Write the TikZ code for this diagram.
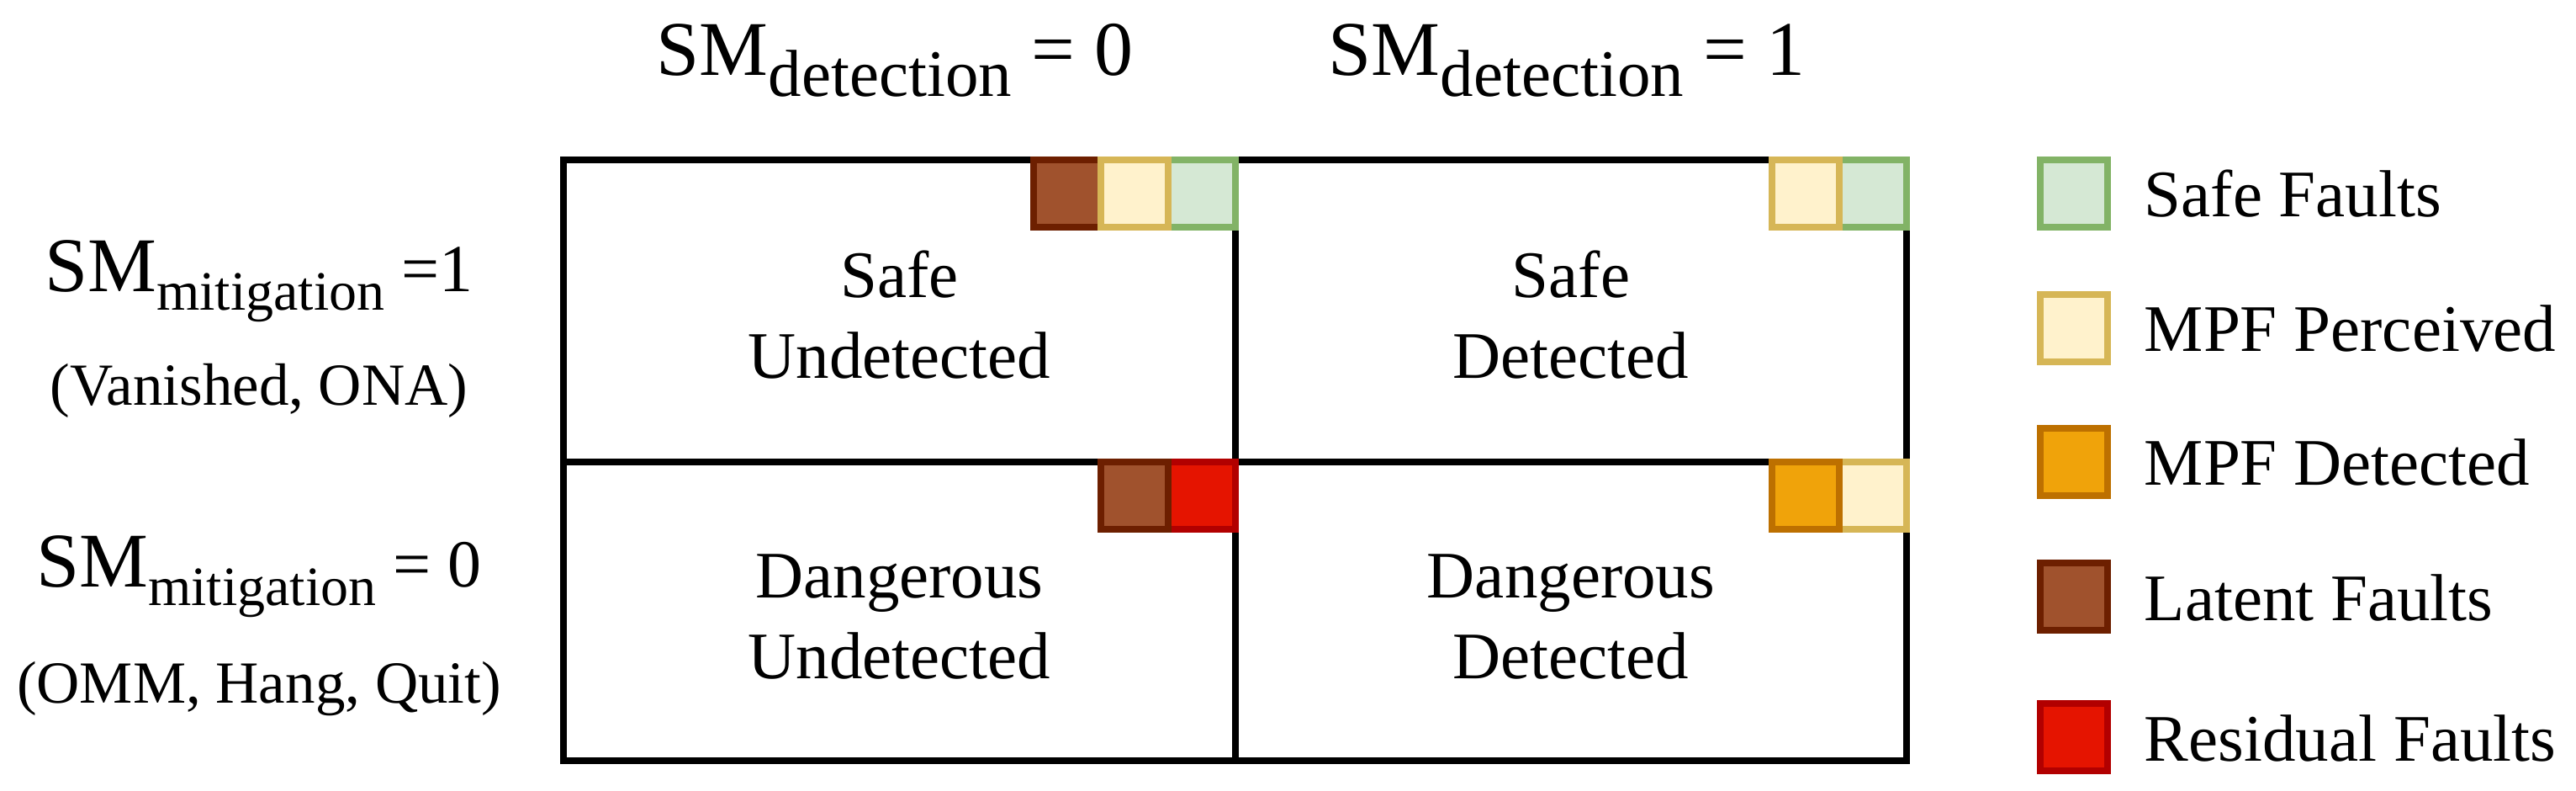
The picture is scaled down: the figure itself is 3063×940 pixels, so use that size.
\documentclass[tikz,border=0pt]{standalone}
\usepackage{fontspec}
\setmainfont{Liberation Serif}
\definecolor{safeF}{HTML}{D5E8D4}\definecolor{safeD}{HTML}{82B366}
\definecolor{percF}{HTML}{FFF2CC}\definecolor{percD}{HTML}{D6B656}
\definecolor{detF}{HTML}{F0A30A}\definecolor{detD}{HTML}{BD7000}
\definecolor{latF}{HTML}{A0522D}\definecolor{latD}{HTML}{6D1F00}
\definecolor{resF}{HTML}{E51400}\definecolor{resD}{HTML}{B20000}
\newcommand{\lowsub}[3]{\raisebox{-#2}{\fontsize{#1}{#1}\selectfont #3}}
\newcommand{\eqpart}[1]{{\fontsize{20}{24}\selectfont #1}}
\tikzset{
  cellbox/.style={draw=black, line width=2pt, inner sep=0pt, outer sep=0pt},
  celltext/.style={font=\fontsize{19.75}{24}\selectfont, align=center, inner sep=0pt},
  fsq/.style={minimum size=20pt, inner sep=0pt, outer sep=0pt, line width=2pt},
  safesq/.style={fsq, draw=safeD, fill=safeF},
  percsq/.style={fsq, draw=percD, fill=percF},
  detsq/.style={fsq, draw=detD, fill=detF},
  latsq/.style={fsq, draw=latD, fill=latF},
  ressq/.style={fsq, draw=resD, fill=resF},
  legtext/.style={font=\fontsize{19.75}{24}\selectfont, anchor=base west, inner sep=0pt},
  toplab/.style={font=\fontsize{23}{27}\selectfont, anchor=base, inner sep=0pt},
  sidelab/.style={font=\fontsize{23}{27}\selectfont, anchor=base, inner sep=0pt},
  parlab/.style={font=\fontsize{17.75}{21}\selectfont, anchor=base, inner sep=0pt},
}
\begin{document}
\begin{tikzpicture}[x=0.25pt, y=-0.25pt]
\useasboundingbox (0,0) rectangle (3063,940);
% grid cells
\draw[cellbox] (670,190) rectangle (1469,549);
\draw[cellbox] (1469,190) rectangle (2267,549);
\draw[cellbox] (670,549) rectangle (1469,904);
\draw[cellbox] (1469,549) rectangle (2267,904);
% cell texts
\node[celltext] (su) at (1069.5,374.5) {Safe\\Undetected};
\node[celltext] (sd) at (1868,374.5) {Safe\\Detected};
\node[celltext] (du) at (1069.5,733.5) {Dangerous\\Undetected};
\node[celltext] (dd) at (1868,733.5) {Dangerous\\Detected};
% squares in cells
\node[safesq] (q1c) at (1429,230) {};
\node[latsq]  (q1a) at (1269,230) {};
\node[percsq] (q1b) at (1349,230) {};
\node[safesq] (q2b) at (2227,230) {};
\node[percsq] (q2a) at (2147,230) {};
\node[ressq]  (q3b) at (1429,589) {};
\node[latsq]  (q3a) at (1349,589) {};
\node[percsq] (q4b) at (2227,589) {};
\node[detsq]  (q4a) at (2147,589) {};
% top labels
\node[toplab] (td0) at (1064,90) {SM\lowsub{19.75pt}{6.25pt}{detection} = 0};
\node[toplab] (td1) at (1863,90) {SM\lowsub{19.75pt}{6.25pt}{detection} = 1};
% side labels
\node[sidelab] (sm1) at (308,347) {SM\lowsub{16.5pt}{5.5pt}{mitigation}\eqpart{ =1}};
\node[parlab] (p1) at (308,482) {(Vanished, ONA)};
\node[sidelab] (sm0) at (308,698) {SM\lowsub{16.5pt}{5.5pt}{mitigation}\eqpart{ = 0}};
\node[parlab] (p0) at (308,835) {(OMM, Hang, Quit)};
% legend
\node[safesq] (l1) at (2466,230) {};
\node[percsq] (l2) at (2466,390) {};
\node[detsq]  (l3) at (2466,549) {};
\node[latsq]  (l4) at (2466,709) {};
\node[ressq]  (l5) at (2466,876) {};
\node[legtext] (t1) at (2549,258) {Safe Faults};
\node[legtext] (t2) at (2549,418) {MPF Perceived};
\node[legtext] (t3) at (2549,577) {MPF Detected};
\node[legtext] (t4) at (2549,737) {Latent Faults};
\node[legtext] (t5) at (2549,904) {Residual Faults};
\end{tikzpicture}
\end{document}
